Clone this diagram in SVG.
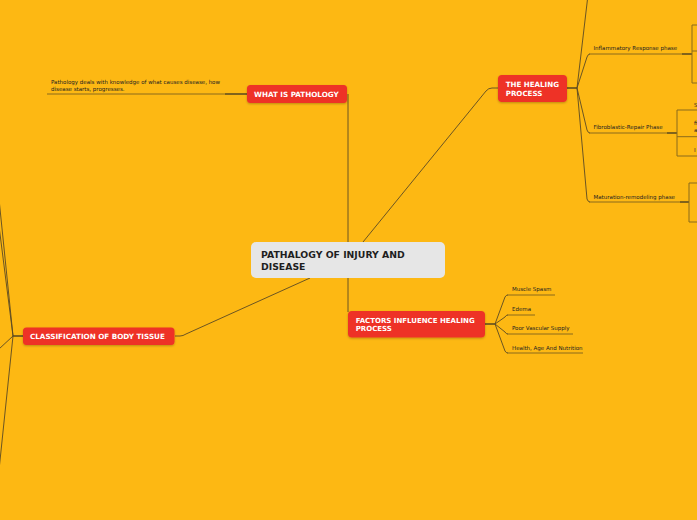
<svg xmlns="http://www.w3.org/2000/svg" width="697" height="520" viewBox="0 0 697 520">
<defs>
<filter id="sh" x="-10%" y="-20%" width="120%" height="150%">
<feDropShadow dx="0" dy="1" stdDeviation="1" flood-color="#000" flood-opacity="0.25"/>
</filter>
<style>
.conn path{fill:none;stroke:#5a4a25;stroke-width:0.9}
.conn .dk{stroke:#2e2a22;stroke-width:1.2}
.conn .ul{stroke:#8a6a1c;stroke-width:1}
.red{fill:#EE3026;filter:url(#sh)}
.nt{font-family:"DejaVu Sans",Verdana,sans-serif;font-weight:bold;fill:#fff}
.ct{font-family:"DejaVu Sans",Verdana,sans-serif;font-weight:bold;fill:#1e1e1e;font-size:9.3px}
.st{font-family:"DejaVu Sans",Verdana,sans-serif;fill:#222;font-size:5.5px}
</style>
</defs>
<rect width="697" height="520" fill="#FDB813"/>
<g class="conn">
<path d="M348,94 V312"/>
<path class="ul" d="M47,94 H225"/>
<path class="dk" d="M225,94 H247"/>
<path d="M363,242 L486,91 Q488.5,88 492,88 L498,88"/>
<path class="dk" d="M567,88 H577"/>
<path d="M577,88 L588,-5"/>
<path d="M577,88 L587,57 Q588,54 590,54"/>
<path d="M577,88 L587,130 Q588,133 590,133"/>
<path d="M577,88 L587,199 Q588,202 590,202"/>
<path class="ul" d="M589,54 H682"/>
<path class="dk" d="M682,54 H692"/>
<path class="ul" d="M692,54 V25 H698 M692,54 V83 H698 M692,51 H698"/>
<path class="ul" d="M589,133 H667"/>
<path class="dk" d="M667,133 H677"/>
<path class="ul" d="M677,133 V110 H698 M677,133 V156 H698 M677,136.7 H698"/>
<path class="ul" d="M589,202 H680"/>
<path class="dk" d="M680,202 H689"/>
<path class="ul" d="M689,202 V183 H698 M689,202 V222 H698"/>
<path class="dk" d="M485,324 H495"/>
<path d="M495,324 L505,297 Q506,295 508,295"/>
<path d="M495,324 L505,317 Q506,315 508,315"/>
<path d="M495,324 L505,332 Q506,334 508,334"/>
<path d="M495,324 L505,351 Q506,353 508,353"/>
<path class="ul" d="M507,295 H555 M507,315 H535 M507,334 H573 M507,353 H583"/>
<path d="M310,278 L186,334 Q183,336 180,336 L175,336"/>
<path class="dk" d="M23,336 H13"/>
<path d="M13,336 L-1,199 M13,336 L-1,226 M13,336 L-1,349 M13,336 L-1,470"/>
</g>
<g id="central">
<rect x="251" y="242" width="194" height="36" rx="5" fill="#E6E6E6"/>
<text class="ct" x="261" y="258">PATHALOGY OF INJURY AND</text>
<text class="ct" x="261" y="269.5">DISEASE</text>
</g>
<g id="what-is-pathology">
<rect class="red" x="247" y="85" width="100" height="18" rx="3.5"/>
<text class="nt" x="254" y="97" font-size="7.2">WHAT IS PATHOLOGY</text>
</g>
<g id="pathology-desc">
<text class="st" x="51" y="84">Pathology deals with knowledge of what causes disease, how</text>
<text class="st" x="51" y="90.5">disease starts, progresses.</text>
</g>
<g id="healing">
<rect class="red" x="498" y="75" width="69" height="27" rx="4"/>
<text class="nt" x="505.7" y="87" font-size="7.1">THE HEALING</text>
<text class="nt" x="505.7" y="96" font-size="7.1">PROCESS</text>
</g>
<g id="inflammatory"><text class="st" x="593.5" y="50">Inflammatory Response phase</text></g>
<g id="fibroblastic"><text class="st" x="593.5" y="129">Fibroblastic-Repair Phase</text></g>
<g id="maturation"><text class="st" x="593.5" y="199">Maturation-remodeling phase</text></g>
<g id="fibro-children">
<text class="st" x="694" y="107">S</text>
<text class="st" x="694" y="125">fi</text>
<text class="st" x="694" y="132">a</text>
<text class="st" x="694" y="152">I</text>
</g>
<g id="factors">
<rect class="red" x="348" y="311" width="137" height="26.5" rx="4"/>
<text class="nt" x="355.7" y="322.5" font-size="7">FACTORS INFLUENCE HEALING</text>
<text class="nt" x="355.7" y="331" font-size="7">PROCESS</text>
</g>
<g id="muscle-spasm"><text class="st" x="512" y="291">Muscle Spasm</text></g>
<g id="edema"><text class="st" x="512" y="311">Edema</text></g>
<g id="poor-vascular"><text class="st" x="512" y="330">Poor Vascular Supply</text></g>
<g id="health-age"><text class="st" x="512" y="350">Health, Age And Nutrition</text></g>
<g id="classification">
<rect class="red" x="23" y="327.5" width="151.5" height="17.5" rx="3.5"/>
<text class="nt" x="30" y="339" font-size="7.2">CLASSIFICATION OF BODY TISSUE</text>
</g>
</svg>
